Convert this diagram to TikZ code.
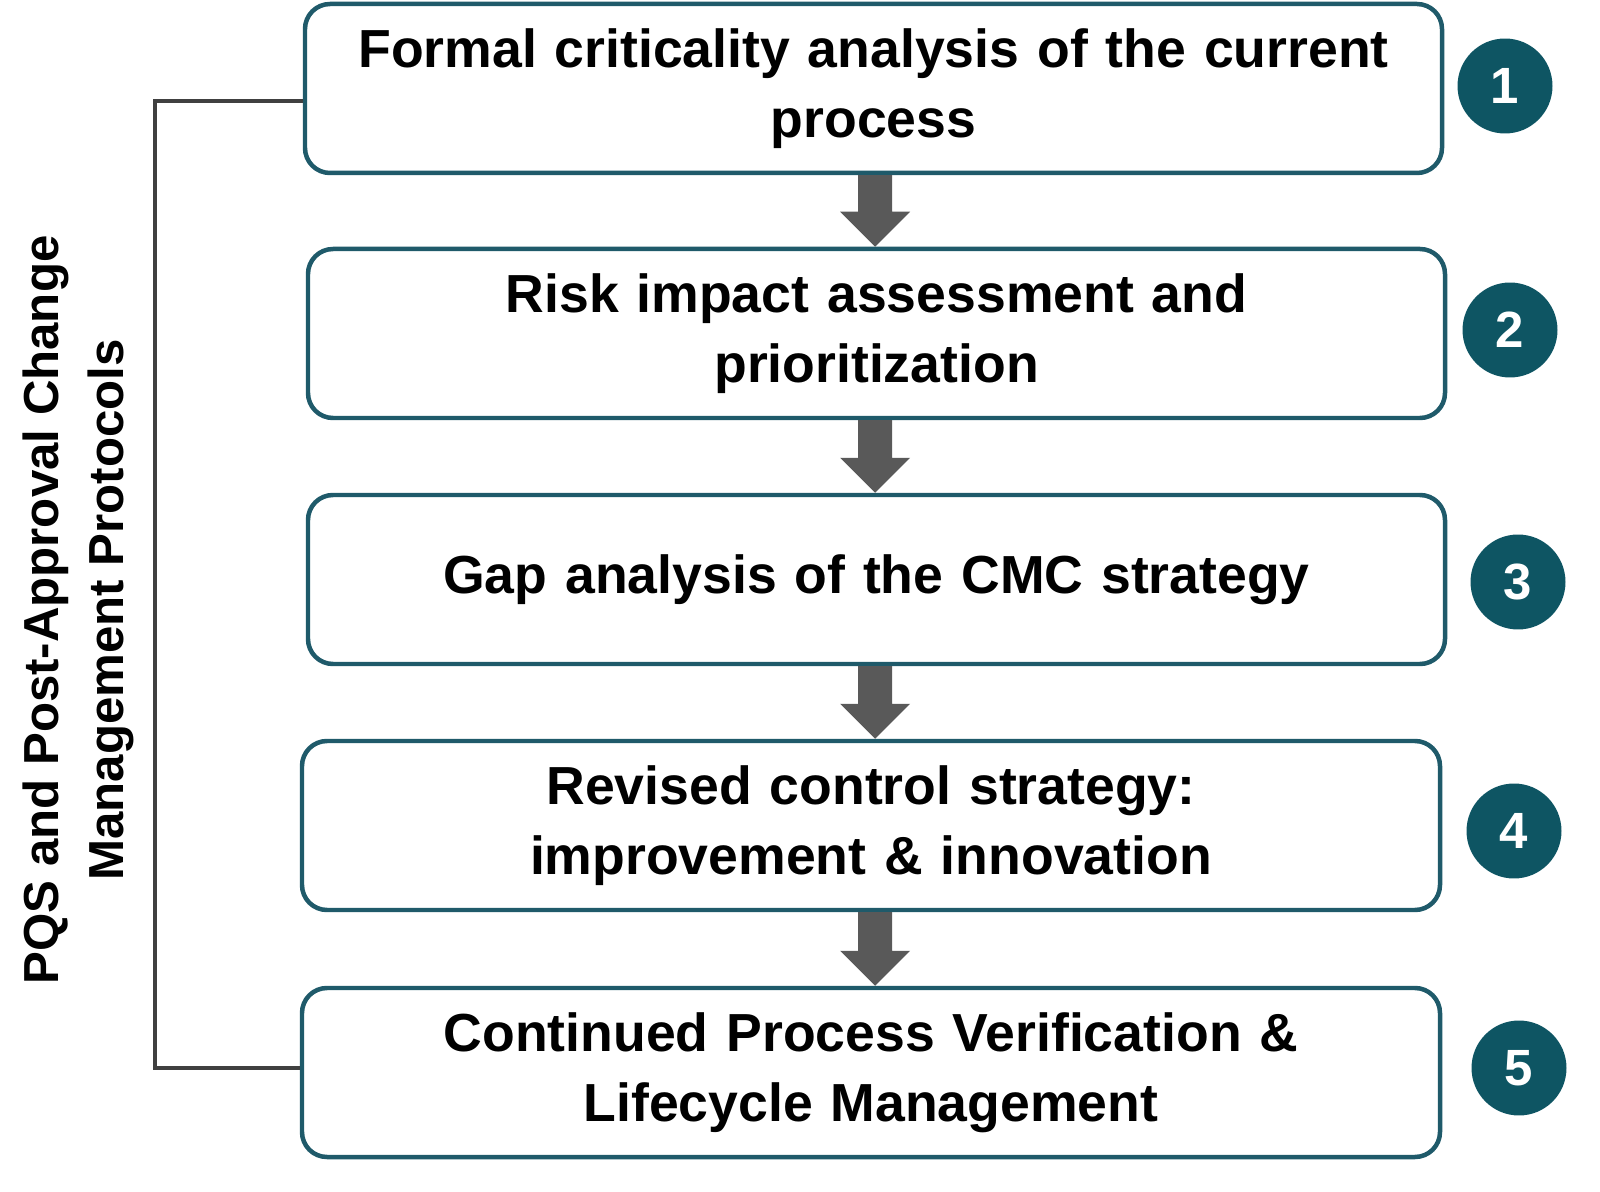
\documentclass[tikz,border=0pt]{standalone}
\usepackage{fontspec}
\setmainfont{Liberation Sans}
\usetikzlibrary{calc}
\definecolor{teal1}{HTML}{1F5A6A}
\definecolor{circ}{HTML}{0E5563}
\definecolor{arr}{HTML}{595959}
\definecolor{brk}{HTML}{404040}
\newcommand{\mybox}[6]{\node[stepbox,minimum width={(#3-#2)*0.02cm},minimum height={(#5-#4)*0.02cm},text width={(#3-#2-20)*0.02cm}] (#1) at ({(#2+#3)/2},{(#4+#5)/2}) {#6};}
\begin{document}
\begin{tikzpicture}[x=0.02cm,y=-0.02cm,
  stepbox/.style={draw=teal1,line width=4.5pt*0.02/0.0352,rounded corners=0.5cm,fill=white,align=center,font=\fontsize{30.5}{40}\selectfont\bfseries,inner sep=0pt},
  num/.style={circle,fill=circ,minimum size=1.9cm,inner sep=0pt,text=white,font=\fontsize{29}{34}\selectfont\bfseries}]
\mybox{b1}{305}{1442}{4}{173}{Formal criticality analysis of the current\\process}
\mybox{b2}{308}{1445}{249}{418}{Risk impact assessment and\\prioritization}
\mybox{b3}{308}{1445}{495}{664}{Gap analysis of the CMC strategy}
\mybox{b4}{302}{1440}{741}{910}{Revised control strategy:\\improvement \& innovation}
\mybox{b5}{302}{1440}{988}{1157}{Continued Process Verification \&\\Lifecycle Management}
\node[num] (n1) at (1505,86) {1};
\node[num] (n2) at (1510,330) {2};
\node[num] (n3) at (1518,582) {3};
\node[num] (n4) at (1514,831) {4};
\node[num] (n5) at (1519,1068) {5};
\foreach \a/\b in {b1/b2,b2/b3,b3/b4,b4/b5}{
  \path let \p1=(\a.south), \p2=(\b.north) in
    coordinate (top) at (875*0.02cm,\y1) coordinate (bot) at (875*0.02cm,\y2);
  \fill[arr] ($(top)+(-17,0)$) -- ($(bot)+(-17,-35)$) -- ($(bot)+(-35,-35)$) -- (bot) -- ($(bot)+(35,-35)$) -- ($(bot)+(17,-35)$) -- ($(top)+(17,0)$) -- cycle;
}
\coordinate (c1) at (155,101);
\coordinate (c2) at (155,1068);
\draw[brk,line width=4pt*0.02/0.0352] (b1.west |- c1) -- (c1) -- (c2) -- (b5.west |- c2);
\node[rotate=90,align=center,font=\fontsize{28}{37}\selectfont\bfseries] (lab) at (78,610) {PQS and Post-Approval Change\\Management Protocols};
\pgfresetboundingbox
\path[use as bounding box] (0,0) rectangle (1600,1192);
\end{tikzpicture}
\end{document}
